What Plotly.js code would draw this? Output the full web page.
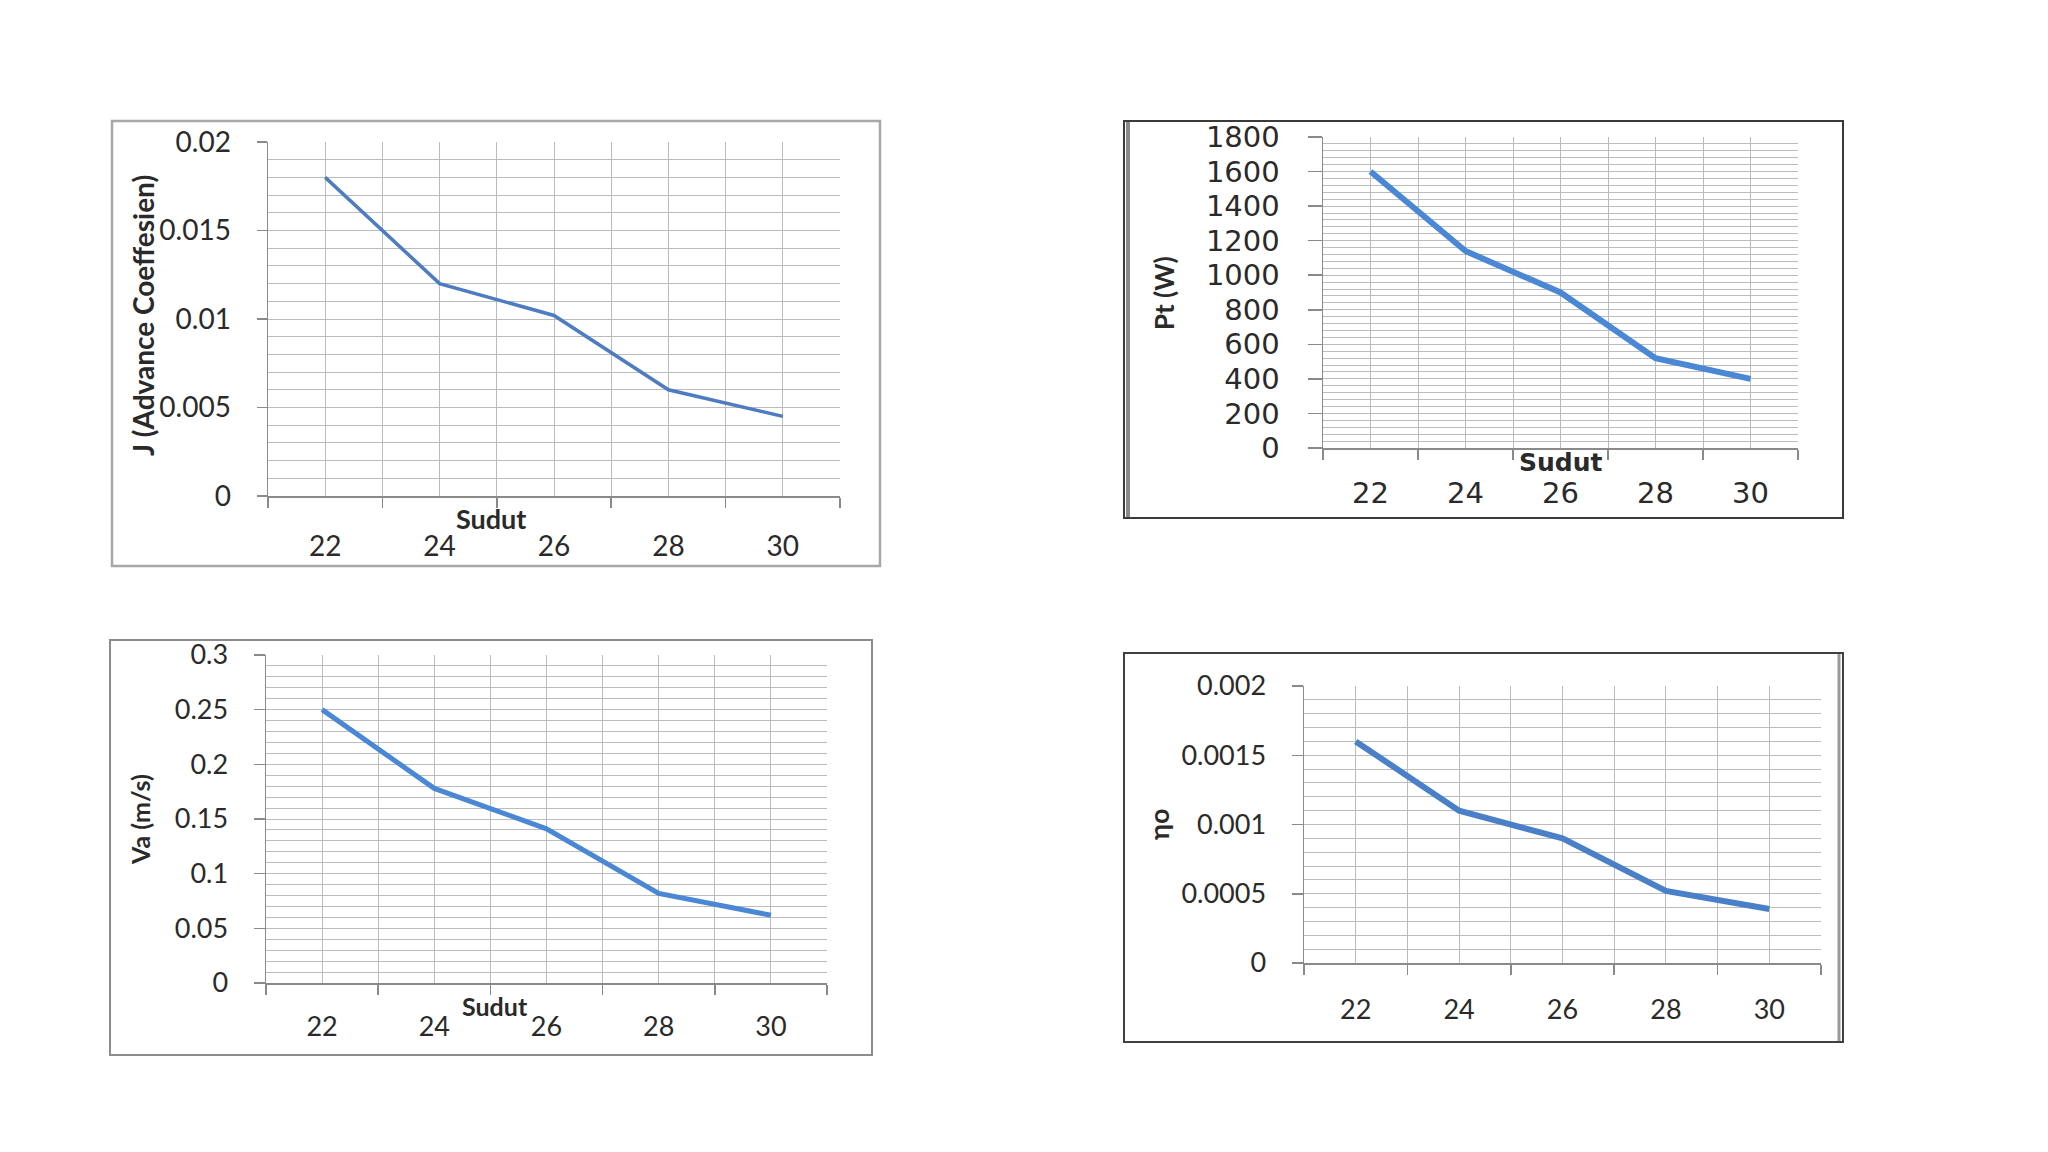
<!DOCTYPE html>
<html><head><meta charset="utf-8">
<script src="https://cdn.plot.ly/plotly-3.0.1.min.js"></script>
<style>html,body{margin:0;padding:0;background:#fff;} #chart{width:2048px;height:1152px;}</style>
</head><body><div id="chart"></div>
<script>
// ---- data ----
const sudut = [22, 24, 26, 28, 30];
const sudutLabels = ["22", "24", "26", "28", "30"];
const advanceJ = [0.018, 0.012, 0.0102, 0.006, 0.0045];
const powerPt = [1600, 1140, 900, 520, 400];
const speedVa = [0.25, 0.178, 0.141, 0.082, 0.062];
const efficiencyEta = [0.0016, 0.0011, 0.0009, 0.00052, 0.00039];
const xTitle = "Sudut";
const yTitles = ["J (Advance Coeffesien)", "Pt (W)", "Va (m/s)", "ηo"];

// ---- layout helpers ----
const W = 2048, H = 1152;
const px = v => v / W;
const py = v => 1 - v / H;

const panels = [
  { y: advanceJ, yTitle: yTitles[0], plot: [268, 142, 840, 496], frame: [112, 121, 880, 566],
    frameColor: "#a8a8a8", frameWidth: 2.5, ymax: 0.02, dtick: 0.005, minor: 0.001,
    tickFont: "Lato", tickSize: 28, lineColor: "#4d7cc0", lineWidth: 3.5,
    xStand: 25, yStand: 20, yTickLen: 10,
    yTitlePos: [143, 316], yTitleFont: "Lato", yTitleSize: 28,
    xTitlePos: [491, 518], xTitleFont: "Lato", xTitleSize: 27 },
  { y: powerPt, yTitle: yTitles[1], plot: [1323, 137, 1798, 448], frame: [1124, 121, 1843, 518],
    frameColor: "#3a3a3a", frameWidth: 2, ymax: 1800, dtick: 200, minor: 40,
    tickFont: "DejaVu Sans", tickSize: 29, lineColor: "#4a88d6", lineWidth: 6,
    xStand: 19, yStand: 22, yTickLen: 14,
    yTitlePos: [1164, 293], yTitleFont: "Lato", yTitleSize: 26,
    xTitlePos: [1560, 462], xTitleFont: "DejaVu Sans", xTitleSize: 25 },
  { y: speedVa, yTitle: yTitles[2], plot: [266, 655, 827, 983], frame: [110, 640, 872, 1055],
    frameColor: "#8c8c8c", frameWidth: 2, ymax: 0.3, dtick: 0.05, minor: 0.01,
    tickFont: "Lato", tickSize: 27, lineColor: "#4a88d6", lineWidth: 5,
    xStand: 19, yStand: 20, yTickLen: 11,
    yTitlePos: [140, 820], yTitleFont: "Lato", yTitleSize: 25,
    xTitlePos: [495, 1006], xTitleFont: "Lato", xTitleSize: 25 },
  { y: efficiencyEta, yTitle: yTitles[3], plot: [1304, 686, 1821, 963], frame: [1124, 653, 1843, 1042],
    frameColor: "#404040", frameWidth: 2, ymax: 0.002, dtick: 0.0005, minor: 0.0001,
    tickFont: "Lato", tickSize: 27, lineColor: "#4a80c8", lineWidth: 6,
    xStand: 22, yStand: 20, yTickLen: 11,
    yTitlePos: [1158, 824], yTitleFont: "Lato", yTitleSize: 27,
    xTitlePos: null }
];

const gridColor = "#bcbcbc";
const axisColor = "#8a8a8a";
const textColor = "#2a2a2a";
const boundaries = [sudut[0] - 1].concat(sudut.map(v => v + 1));

const traces = [];
const layout = {
  width: W, height: H, margin: { l: 0, r: 0, t: 0, b: 0 },
  paper_bgcolor: "#ffffff", plot_bgcolor: "rgba(0,0,0,0)",
  showlegend: false, shapes: [], annotations: []
};

panels.forEach((p, i) => {
  const n = i === 0 ? "" : String(i + 1);
  traces.push({
    x: sudut, y: p.y, xaxis: "x" + n, yaxis: "y" + n, mode: "lines",
    line: { color: p.lineColor, width: p.lineWidth }, hoverinfo: "skip"
  });
  layout["xaxis" + n] = {
    domain: [px(p.plot[0]), px(p.plot[2])], anchor: "y" + n,
    range: [sudut[0] - 1, sudut[sudut.length - 1] + 1],
    tickmode: "array", tickvals: sudut, ticktext: sudutLabels, ticks: "",
    showgrid: true, gridcolor: gridColor, gridwidth: 1,
    showline: true, linecolor: axisColor, linewidth: 1.5, zeroline: false,
    tickfont: { family: p.tickFont, size: p.tickSize, color: textColor },
    ticklabelstandoff: p.xStand,
    minor: { tickmode: "array", tickvals: boundaries, ticks: "outside", ticklen: 10,
             tickcolor: axisColor, tickwidth: 1.5, showgrid: true, gridcolor: gridColor, gridwidth: 1 },
    fixedrange: true
  };
  layout["yaxis" + n] = {
    domain: [py(p.plot[3]), py(p.plot[1])], anchor: "x" + n,
    range: [0, p.ymax], tickmode: "linear", tick0: 0, dtick: p.dtick,
    ticks: "outside", ticklen: p.yTickLen, tickcolor: axisColor, tickwidth: 1.5,
    showline: true, linecolor: axisColor, linewidth: 1.5, zeroline: false,
    showgrid: true, gridcolor: gridColor, gridwidth: 1,
    exponentformat: "none",
    tickfont: { family: p.tickFont, size: p.tickSize, color: textColor },
    ticklabelstandoff: p.yStand,
    minor: { tick0: 0, dtick: p.minor, ticks: "", showgrid: true, gridcolor: gridColor, gridwidth: 1 },
    fixedrange: true
  };
  layout.shapes.push({
    type: "rect", xref: "paper", yref: "paper",
    x0: px(p.frame[0]), x1: px(p.frame[2]), y0: py(p.frame[3]), y1: py(p.frame[1]),
    line: { color: p.frameColor, width: p.frameWidth }, fillcolor: "rgba(0,0,0,0)"
  });
  layout.annotations.push({
    xref: "paper", yref: "paper", x: px(p.yTitlePos[0]), y: py(p.yTitlePos[1]),
    xanchor: "center", yanchor: "middle", textangle: -90, showarrow: false,
    text: "<b>" + p.yTitle + "</b>",
    font: { family: p.yTitleFont, size: p.yTitleSize, color: textColor }
  });
  if (p.xTitlePos) {
    layout.annotations.push({
      xref: "paper", yref: "paper", x: px(p.xTitlePos[0]), y: py(p.xTitlePos[1]),
      xanchor: "center", yanchor: "middle", showarrow: false,
      text: "<b>" + xTitle + "</b>",
      font: { family: p.xTitleFont, size: p.xTitleSize, color: textColor }
    });
  }
});

// extra inner edges seen on the dark frames
layout.shapes.push({ type: "line", xref: "paper", yref: "paper",
  x0: px(1128), x1: px(1128), y0: py(517), y1: py(122), line: { color: "#8a8a8a", width: 4 } });
layout.shapes.push({ type: "line", xref: "paper", yref: "paper",
  x0: px(1839), x1: px(1839), y0: py(1041), y1: py(654), line: { color: "#9a9a9a", width: 3 } });

Plotly.newPlot("chart", traces, layout, { staticPlot: true, displayModeBar: false });
</script>
</body></html>
